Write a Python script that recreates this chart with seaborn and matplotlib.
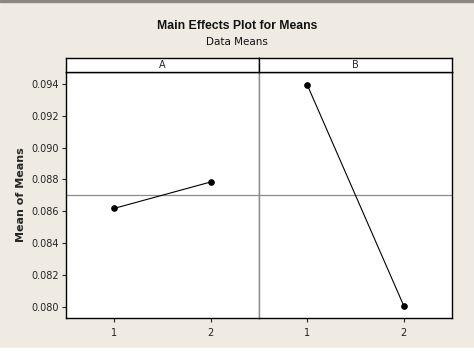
import matplotlib
matplotlib.use("Agg")
import matplotlib.pyplot as plt
import seaborn as sns
import pandas as pd
from matplotlib.patches import Rectangle

factors = ["A", "B"]
levels = [1, 2]
means_A = [0.08618, 0.08784]
means_B = [0.09394, 0.08006]
grand_mean = 0.08701
yticks = [0.080, 0.082, 0.084, 0.086, 0.088, 0.090, 0.092, 0.094]

sns.set_style("white")
plt.rcParams["font.family"] = ["DejaVu Sans"]

bg = "#EFEBE3"
fig = plt.figure(figsize=(4.74, 3.51), dpi=100, facecolor=bg)
fig.patches.append(Rectangle((0, 0.994), 1, 0.006, transform=fig.transFigure,
                             color="#8C8980", zorder=0))
fig.patches.append(Rectangle((0, 0), 1, 3/351, transform=fig.transFigure,
                             color="white", zorder=0))

left, mid, right = 66/474, 259/474, 452/474
bot, top, stop = 1 - 318/351, 1 - 72/351, 1 - 57.5/351

data = {"A": means_A, "B": means_B}
for i, f in enumerate(factors):
    x0 = left if i == 0 else mid
    w = (mid - left) if i == 0 else (right - mid)
    ax = fig.add_axes([x0, bot, w, top - bot])
    sax = fig.add_axes([x0, top, w, stop - top])
    df = pd.DataFrame({"level": levels, "mean": data[f]})
    ax.axhline(grand_mean, color="#8a8a8a", lw=0.9, zorder=1)
    sns.lineplot(data=df, x="level", y="mean", ax=ax, color="black", lw=0.8,
                 marker="o", markersize=4, markeredgecolor="black", zorder=3)
    ax.set_xlim(0.5, 2.5)
    ax.set_ylim(0.07929, 0.09475)
    ax.set_xticks(levels)
    ax.set_xticklabels([str(l) for l in levels], fontsize=7, color="#222222")
    ax.set_xlabel("")
    ax.set_ylabel("")
    ax.set_facecolor("white")
    for s in ax.spines.values():
        s.set_color("black")
        s.set_linewidth(1.0)
    ax.tick_params(axis="x", direction="out", length=3, width=0.8, pad=4, bottom=True)
    if i == 0:
        ax.set_yticks(yticks)
        ax.set_yticklabels([f"{v:.3f}" for v in yticks], fontsize=7, color="#222222")
        ax.tick_params(axis="y", direction="out", length=3, width=0.8, pad=2, left=True)
        ax.spines["right"].set_color("#8a8a8a")
        ax.set_ylabel("Mean of Means", fontsize=8, fontweight="bold", labelpad=4)
    else:
        ax.set_yticks([])
        ax.spines["left"].set_color("#8a8a8a")
    sax.set_facecolor("white")
    sax.set_xticks([])
    sax.set_yticks([])
    for s in sax.spines.values():
        s.set_color("black")
        s.set_linewidth(1.0)
    sax.text(0.5, 0.5, f, ha="center", va="center", fontsize=7, transform=sax.transAxes)

fig.text(0.5, 1 - 26/351, "Main Effects Plot for Means", ha="center", va="center",
         fontsize=8.8, fontweight="bold", color="#111111", family="Liberation Sans")
fig.text(0.5, 1 - 42/351, "Data Means", ha="center", va="center",
         fontsize=7.5, color="#111111")

fig.savefig("out.png", dpi=100, facecolor=bg)
